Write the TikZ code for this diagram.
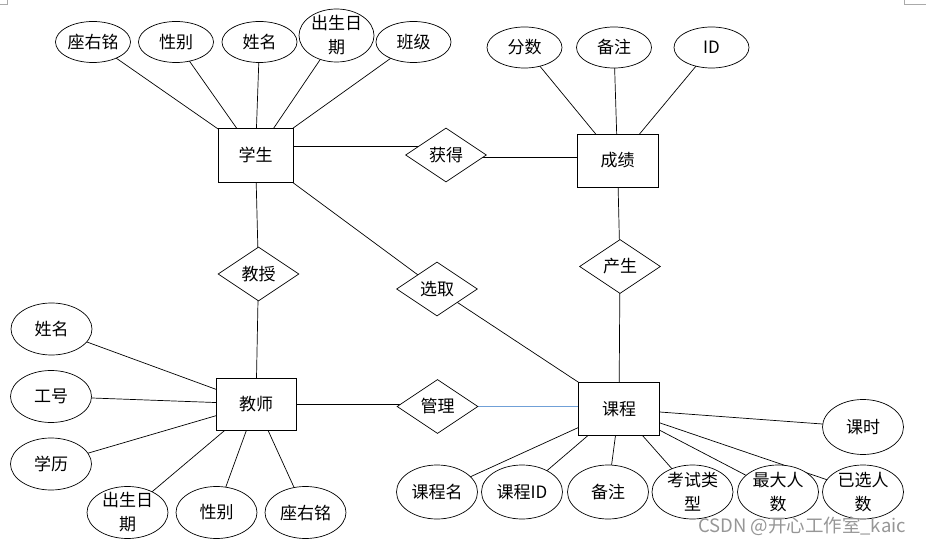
\documentclass[tikz,border=0pt]{standalone}
\usepackage{fontspec}
\setmainfont{Noto Sans CJK SC}
\usetikzlibrary{shapes.geometric,backgrounds}
\definecolor{edgeblue}{RGB}{112,160,215}
\definecolor{markgray}{RGB}{170,170,170}
\definecolor{wmgray}{RGB}{150,150,150}
\tikzset{
  ent/.style={draw, fill=white, rectangle, line width=0.8pt, inner sep=0pt, minimum width=80pt, minimum height=53pt, font=\fontsize{17}{24}\selectfont},
  rel/.style={draw, fill=white, diamond, line width=0.7pt, inner sep=0pt, minimum width=81pt, minimum height=54pt, font=\fontsize{17}{24}\selectfont},
  attr/.style={draw, fill=white, ellipse, line width=0.7pt, inner sep=0pt, minimum width=75pt, minimum height=41pt, font=\fontsize{17}{24}\selectfont, align=center},
  tattr/.style={attr, minimum width=81pt, minimum height=53pt},
  twoline/.style={inner ysep=-14pt},
  conn/.style={line width=0.7pt},
}
\begin{document}
\begin{tikzpicture}[x=1pt,y=-1pt]
\useasboundingbox (0,0) rectangle (926,545);
% page corner marks
\draw[markgray, line width=0.6pt] (0,4.5) -- (7,4.5) -- (7,0);
\draw[markgray, line width=0.6pt] (926,4) -- (904,4) -- (904,0);

% entities
\node[ent, minimum width=75pt, minimum height=54pt] (xs) at (255.5,155) {学生};
\node[ent, minimum width=81pt] (cj) at (617.5,160.5) {成绩};
\node[ent, minimum width=81pt] (kc) at (619,409) {课程};
\node[ent, minimum height=52pt] (js) at (256,404) {教师};

% relations
\node[rel] (hd) at (446,155) {获得};
\node[rel] (jsq) at (258.5,274) {教授};
\node[rel] (xq) at (437,289) {选取};
\node[rel] (cs) at (620,266.5) {产生};
\node[rel] (gl) at (437.5,406.5) {管理};

% student attributes
\node[attr] (s1) at (93,42) {座右铭};
\node[attr] (s2) at (176,42) {性别};
\node[attr] (s3) at (259.5,42) {姓名};
\node[attr, minimum height=53pt, twoline] (s4) at (336.5,35.5) {出生日\\期};
\node[attr] (s5) at (413.5,42) {班级};

% score attributes
\node[attr] (c1) at (524.5,47.5) {分数};
\node[attr] (c2) at (614,47.5) {备注};
\node[attr] (c3) at (711.5,47.5) {ID};

% teacher attributes
\node[tattr, minimum height=52pt] (t1) at (51.5,329) {姓名};
\node[tattr, minimum height=52pt] (t2) at (51,396.5) {工号};
\node[tattr, minimum height=52pt] (t3) at (51,464) {学历};
\node[tattr, minimum height=52pt, twoline] (t4) at (127.5,512.5) {出生日\\期};
\node[tattr, minimum height=52pt] (t5) at (216.5,512.5) {性别};
\node[tattr, minimum height=52pt] (t6) at (305.5,512.5) {座右铭};

% course attributes
\node[tattr, minimum height=55pt] (k0) at (863,427) {课时};
\node[tattr, minimum height=54pt] (k1) at (437,492) {课程名};
\node[tattr, minimum height=54pt] (k2) at (522,492) {课程ID};
\node[tattr, minimum height=54pt] (k3) at (608,492) {备注};
\node[tattr, minimum height=54pt, twoline] (k4) at (692.5,492) {考试类\\型};
\node[tattr, minimum height=54pt, twoline] (k5) at (778,492) {最大人\\数};
\node[tattr, minimum height=54pt, twoline] (k6) at (863,492) {已选人\\数};

% watermark
\node[text=wmgray, font=\fontsize{18.5}{20}\selectfont, inner sep=0pt] (wm) at (802,526) {CSDN @开心工作室\_kaic};

\begin{scope}[on background layer]
  \foreach \a in {s1,s2,s3,s4,s5} \draw[conn] (\a.center) -- (xs.center);
  \foreach \a in {c1,c2,c3} \draw[conn] (\a.center) -- (cj.center);
  \foreach \a in {t1,t2,t3,t4,t5,t6} \draw[conn] (\a.center) -- (js.center);
  \foreach \a in {k0,k1,k2,k3,k4,k5,k6} \draw[conn] (\a.center) -- (kc.center);
  \draw[conn] ([yshift=9pt]xs.east) -- ([yshift=9pt]xs.east -| hd.center);
  \draw[conn] ([yshift=3.5pt]cj.west) -- ([yshift=3.5pt]cj.west -| hd.center);
  \draw[conn] (xs.center) -- (jsq.center) -- (js.center);
  \draw[conn] (xs.center) -- (xq.center) -- (kc.center);
  \draw[conn] (cj.center) -- (cs.center) -- (kc.center);
  \draw[conn] (js.center) -- (js.center -| gl.center);
  \draw[edgeblue, line width=0.7pt] (gl.center) -- (gl.center -| kc.center);
\end{scope}
\end{tikzpicture}
\end{document}
